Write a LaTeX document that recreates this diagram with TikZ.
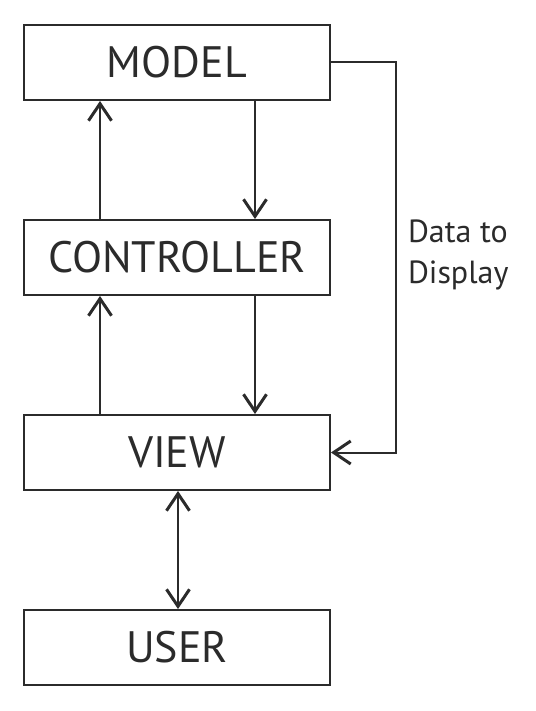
\documentclass[tikz,border=0pt]{standalone}
\usepackage{fontspec}
\setmainfont{PT Sans}
\usetikzlibrary{positioning, arrows.meta}

\begin{document}
\begin{tikzpicture}[
    x=1pt, y=1pt,
    line width=2pt, draw=black!83,
    mvcbox/.style={draw=black!83, minimum width=\boxwidth, minimum height=\boxheight, inner sep=0pt, text=black!83, font=\fontsize{44}{50}\selectfont},
    tip/.style={-{Straight Barb[length=17pt, width=23pt, line width=3pt]}},
    bothtips/.style={{Straight Barb[length=17pt, width=23pt, line width=3pt]}-{Straight Barb[length=17pt, width=23pt, line width=3pt]}}
  ]
  \newcommand\boxwidth{306pt}
  \newcommand\boxheight{75pt}
  \newcommand\boxgap{118pt} % gap between two boxes

  \useasboundingbox[fill=white] (0,0) rectangle (535,-711);

  \node[mvcbox] at (177, -62.5) (model) {MODEL};
  \node[mvcbox, below=\boxgap of model] (controller) {CONTROLLER};
  \node[mvcbox, below=\boxgap of controller] (view) {VIEW};
  \node[mvcbox, below=\boxgap of view] (user) {USER};

  % up and down between the boxes
  \foreach \upper/\lower in {model/controller, controller/view}{
    \draw[tip] ([xshift=-77pt]\lower.north) -- ([xshift=-77pt]\upper.south);
    \draw[tip] ([xshift=78pt]\upper.south) -- ([xshift=78pt]\lower.north);
  }
  \draw[bothtips] ([xshift=1pt]view.south) -- ([xshift=1pt]user.north);

  \coordinate[right=65pt of model.east] (turn);
  \draw[tip] (model.east) -- (turn) |- (view.east);
  \node[anchor=west, align=left, inner sep=0pt, text=black!83, font=\fontsize{32}{41}\selectfont] at (407, -255) (datalbl) {Data to\\Display};
\end{tikzpicture}
\end{document}
